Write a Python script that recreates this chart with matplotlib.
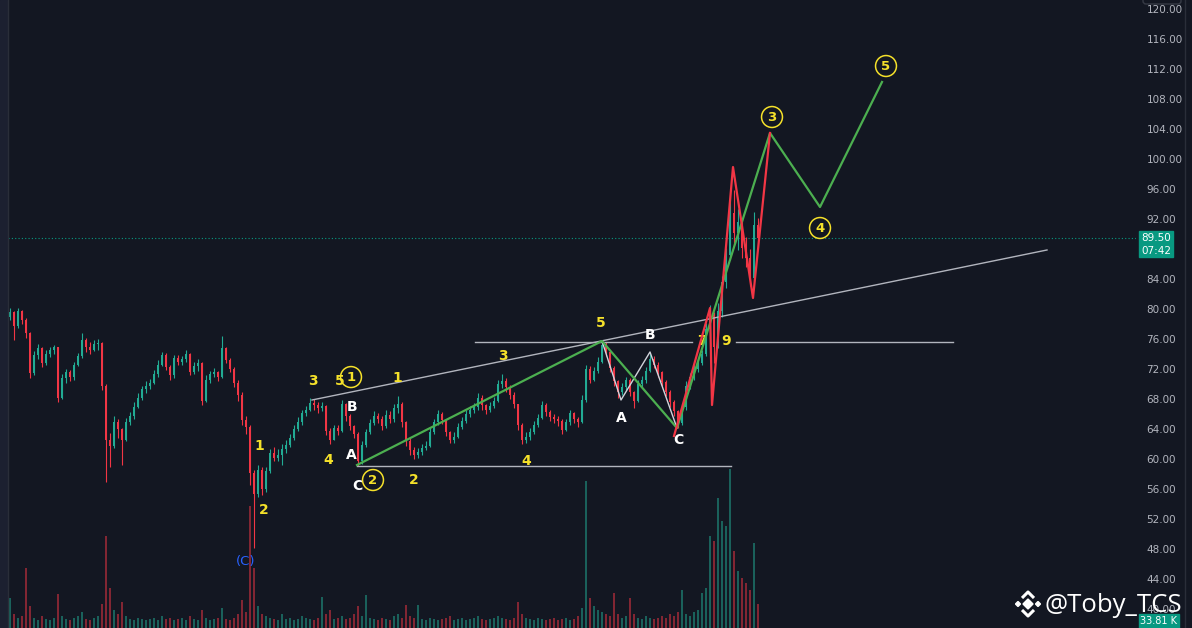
import matplotlib
matplotlib.use("Agg")
import matplotlib.pyplot as plt
from matplotlib.patches import Rectangle, Polygon, FancyBboxPatch
import numpy as np

# candles, left to right (one every ~4 px)
closes = [
    79.6, 77.8, 79.7, 78.6, 76.8, 71.5, 73.9, 74.8, 72.8, 74.0,
    74.6, 74.9, 68.2, 70.8, 71.6, 70.9, 72.6, 73.7, 75.9, 75.0,
    74.6, 75.3, 75.5, 69.8, 62.5, 61.8, 65.0, 64.0, 62.6, 64.9,
    65.7, 67.0, 68.2, 69.3, 69.8, 70.2, 71.4, 72.6, 73.9, 72.3,
    71.2, 73.5, 73.0, 73.3, 74.0, 71.6, 72.4, 72.8, 67.8, 70.6,
    71.3, 71.6, 70.9, 74.8, 73.2, 72.0, 70.2, 68.6, 65.2, 64.3,
    58.2, 55.4, 58.6, 56.0, 58.4, 60.8, 60.2, 60.6, 61.4, 61.9,
    62.8, 64.0, 65.0, 66.1, 66.6, 67.5, 67.2, 66.8, 67.1, 63.8,
    62.6, 64.1, 63.8, 67.3, 65.7, 64.4, 63.4, 59.8, 61.9, 63.6,
    64.8, 65.8, 65.4, 64.4, 65.9, 65.3, 66.8, 67.4, 64.9, 62.4,
    61.2, 60.5, 61.0, 61.5, 61.8, 63.6, 64.9, 66.0, 65.2, 63.6,
    62.6, 63.0, 64.3, 65.1, 66.0, 66.6, 66.9, 68.2, 67.2, 66.6,
    67.1, 67.8, 70.0, 70.4, 69.6, 68.6, 67.3, 64.5, 62.6, 63.0,
    63.6, 64.6, 65.5, 67.2, 66.3, 65.6, 65.4, 65.1, 63.9, 64.9,
    66.1, 65.3, 64.9, 67.9, 72.0, 70.6, 71.8, 73.0, 75.2, 74.3,
    72.2, 70.4, 68.9, 69.6, 70.5, 68.9, 67.8, 70.0, 70.5, 71.8,
    73.4, 72.6, 71.6, 70.3, 69.0, 67.6, 66.4, 64.8, 66.9, 69.8,
    70.9, 72.0, 72.8, 74.0, 77.4, 79.2, 75.0, 79.8, 83.6, 87.2,
    92.8, 90.2, 91.6, 88.1, 86.8, 84.2, 91.2, 89.5]

highs = [
    80.2, 79.8, 80.1, 79.9, 78.8, 76.9, 74.4, 75.3, 75.0, 74.6,
    75.0, 75.2, 74.9, 71.4, 72.0, 71.9, 73.0, 74.2, 76.8, 76.2,
    75.6, 75.9, 76.0, 75.6, 70.0, 63.5, 65.8, 65.4, 64.2, 65.5,
    66.3, 67.6, 68.8, 69.8, 70.4, 70.7, 71.9, 73.2, 74.3, 74.1,
    72.6, 73.9, 73.9, 73.8, 74.5, 74.2, 73.0, 73.4, 72.9, 71.2,
    71.8, 72.2, 71.8, 76.4, 75.0, 73.5, 72.3, 70.5, 68.9, 65.8,
    64.5, 58.6, 59.2, 59.0, 59.0, 61.3, 61.6, 61.3, 62.0, 62.5,
    63.4, 64.5, 65.6, 66.6, 67.1, 68.1, 68.0, 67.6, 67.6, 67.2,
    64.2, 64.6, 64.6, 67.9, 67.5, 66.0, 64.6, 63.6, 62.4, 64.0,
    65.4, 66.4, 66.1, 65.8, 66.5, 66.4, 67.4, 68.4, 67.6, 65.1,
    62.8, 61.6, 61.5, 62.0, 62.4, 64.1, 65.4, 66.6, 66.3, 65.4,
    63.8, 63.6, 64.8, 65.6, 66.5, 67.1, 67.5, 68.8, 68.5, 67.4,
    67.6, 68.3, 70.5, 71.4, 70.8, 69.9, 68.9, 67.4, 64.8, 63.6,
    64.1, 65.1, 66.0, 67.8, 67.5, 66.6, 66.0, 65.8, 65.3, 65.4,
    66.6, 66.3, 65.6, 68.5, 72.6, 72.4, 72.3, 73.6, 75.9, 75.6,
    74.6, 72.4, 70.6, 70.1, 71.0, 70.8, 69.1, 70.5, 71.1, 72.3,
    74.0, 73.8, 72.9, 71.8, 70.6, 69.2, 67.9, 66.6, 67.4, 70.4,
    71.5, 72.6, 73.4, 74.6, 78.2, 80.6, 79.6, 80.8, 84.4, 88.2,
    94.9, 95.9, 93.4, 92.0, 89.6, 88.0, 93.0, 92.2]

lows = [
    78.5, 75.9, 77.5, 78.0, 76.2, 70.8, 71.2, 73.4, 72.3, 72.5,
    73.6, 74.0, 67.6, 68.0, 70.2, 70.4, 70.6, 72.4, 73.5, 74.3,
    74.0, 74.4, 74.6, 69.2, 56.9, 59.0, 61.5, 62.8, 59.2, 62.4,
    64.6, 65.4, 66.8, 67.9, 68.8, 69.4, 70.0, 71.0, 72.4, 71.9,
    70.6, 70.8, 72.5, 72.6, 72.9, 71.2, 71.3, 71.8, 67.2, 67.6,
    70.2, 70.9, 70.4, 70.8, 72.8, 71.6, 69.6, 67.8, 64.5, 63.4,
    56.5, 48.2, 55.0, 55.2, 55.6, 58.2, 59.7, 59.8, 59.2, 60.8,
    61.6, 62.6, 63.8, 64.6, 65.7, 66.4, 66.5, 66.2, 66.4, 63.2,
    62.0, 62.5, 63.2, 63.6, 65.1, 63.9, 62.8, 59.1, 59.4, 61.6,
    63.3, 64.5, 64.8, 63.9, 64.2, 64.8, 65.0, 66.2, 64.3, 61.8,
    60.6, 60.0, 60.1, 60.6, 61.2, 61.6, 63.4, 64.6, 64.7, 63.1,
    62.1, 62.2, 62.8, 64.0, 64.8, 65.6, 66.1, 66.6, 66.6, 66.0,
    66.3, 66.8, 67.6, 69.5, 69.0, 68.0, 66.8, 63.9, 62.0, 62.2,
    62.6, 63.3, 64.3, 65.3, 65.8, 65.1, 64.8, 64.4, 63.4, 63.7,
    64.6, 64.8, 64.3, 64.8, 67.6, 70.1, 70.4, 71.5, 72.8, 73.8,
    71.6, 69.8, 68.2, 68.5, 69.2, 68.4, 66.8, 67.6, 69.6, 70.2,
    71.6, 72.1, 71.0, 69.8, 68.4, 67.0, 65.8, 64.1, 64.6, 66.6,
    69.4, 70.6, 71.6, 72.6, 73.8, 76.4, 72.8, 74.8, 78.9, 82.8,
    86.6, 88.6, 87.9, 86.8, 85.6, 83.1, 83.8, 88.1]

# volume in K
volumes = [
    42, 20, 14, 17, 84, 31, 14, 11, 17, 13,
    11, 14, 48, 17, 13, 11, 14, 17, 22, 13,
    11, 14, 17, 34, 130, 56, 25, 20, 36, 17,
    13, 11, 14, 13, 11, 13, 14, 11, 17, 13,
    14, 11, 13, 14, 11, 17, 13, 11, 25, 14,
    11, 13, 14, 28, 13, 11, 14, 20, 39, 22,
    172, 84, 31, 20, 17, 14, 13, 11, 20, 13,
    14, 11, 13, 17, 14, 13, 11, 14, 43, 20,
    25, 13, 14, 17, 13, 14, 20, 31, 17, 46,
    14, 13, 11, 14, 13, 11, 17, 20, 14, 32,
    17, 14, 32, 13, 11, 14, 13, 11, 13, 14,
    17, 11, 13, 14, 11, 13, 14, 17, 13, 11,
    13, 14, 17, 14, 13, 11, 14, 36, 20, 14,
    13, 11, 14, 13, 11, 13, 14, 11, 13, 14,
    11, 13, 17, 28, 207, 42, 31, 25, 22, 20,
    17, 50, 20, 14, 17, 42, 20, 14, 13, 17,
    14, 13, 14, 17, 14, 20, 17, 22, 53, 20,
    17, 22, 25, 49, 56, 130, 123, 183, 151, 144,
    224, 109, 81, 70, 63, 53, 120, 33.81]

# 88.00 sits under the last-price tag, so it is not shown
price_ticks = [40, 44, 48, 52, 56, 60, 64, 68, 72, 76, 80, 84, 92, 96, 100, 104, 108, 112, 116, 120]

# drawings: (bar index, price)
green_wave = [(86.75, 59.2), (148, 75.73), (166.75, 64.13), (190, 103.47), (202.5, 93.6), (218, 110.27)]
red_wave = [(166, 63.07), (175, 80.13), (175.5, 67.2), (180.75, 98.93), (185.75, 81.47), (190, 103.47)]
abc_wave = [(148, 75.73), (152.75, 67.87), (160, 74.27), (166.75, 64.13)]
trend_line = [(75.5, 67.87), (259.25, 87.87)]
top_level = 75.6
top_segments = [(116.25, 170.5), (181.5, 235.75)]
base_level = 59.07
base_span = (86.75, 180.25)

wave_labels = [("1", 62.25, 61.73), ("2", 63.5, 53.2), ("3", 75.75, 70.4), ("4", 79.5, 59.87),
               ("5", 82.5, 70.4), ("1", 96.75, 70.8), ("2", 101, 57.2), ("3", 123.25, 73.73),
               ("4", 129, 59.73), ("5", 147.75, 78.13)]
letter_labels = [("B", 85.5, 66.93), ("A", 85.25, 60.53), ("C", 86.75, 56.4),
                 ("B", 160, 76.53), ("A", 152.75, 65.47), ("C", 167, 62.53)]
circled_labels = [("1", 85.25, 70.93), ("2", 90.75, 57.2), ("3", 190.5, 105.6),
                  ("4", 202.5, 90.8), ("5", 219, 112.4)]
hidden_labels = [("7", 173, 75.73), ("9", 179, 75.73)]

BG = "#131722"
UP = "#22ab94"
DOWN = "#f23645"
YEL = "#f5e12a"
W, H = 1192, 628

closes = np.array(closes)
highs = np.array(highs)
lows = np.array(lows)
opens = np.r_[79.0, closes[:-1]]
x = np.arange(len(closes))
up = closes >= opens
cols = np.where(up, UP, DOWN)

fig = plt.figure(figsize=(W / 100, H / 100), dpi=100, facecolor=BG)

vax = fig.add_axes([8 / W, 0, (1136 - 8) / W, 1])
vax.patch.set_visible(False)
vax.set_xlim(-0.5, 281.5)
vax.set_ylim(0, 885)
vax.axis("off")
vax.bar(x, volumes, width=0.7, color=cols, alpha=0.5, linewidth=0)

ax = fig.add_axes([8 / W, 0, (1136 - 8) / W, 1])
ax.patch.set_visible(False)
ax.set_xlim(-0.5, 281.5)
ax.set_ylim(37.47, 121.2)
for s in ax.spines.values():
    s.set_visible(False)
ax.set_xticks([])
ax.yaxis.tick_right()
ax.set_yticks(price_ticks)
ax.set_yticklabels([f"{v:.2f}" for v in price_ticks])
ax.tick_params(axis="y", length=0, pad=7.5, labelsize=7.5, labelcolor="#b2b5be")

# hidden labels sit under the candles
for t, xi, yi in hidden_labels:
    ax.text(xi, yi, t, color=YEL, fontsize=10, fontweight="bold", ha="center", va="center", zorder=1)

ax.vlines(x, lows, highs, color=cols, lw=0.8, zorder=2)
body = np.maximum(np.abs(closes - opens), 0.12)
ax.bar(x, body, bottom=np.minimum(opens, closes), width=0.62, color=cols, linewidth=0, zorder=2)

ax.axhline(closes[-1], color="#089981", ls=(0, (1, 2)), lw=0.8, zorder=1)

tx, ty = zip(*trend_line)
ax.plot(tx, ty, color="#b2b5be", lw=1, zorder=3)
for a, b in top_segments:
    ax.plot([a, b], [top_level, top_level], color="#b2b5be", lw=1, zorder=3)
ax.plot(base_span, [base_level, base_level], color="#b2b5be", lw=1, zorder=3)

ax.plot(*zip(*abc_wave), color="#d1d4dc", lw=1, zorder=3)
ax.plot(*zip(*green_wave), color="#4caf50", lw=1.6, zorder=4)
ax.plot(*zip(*red_wave), color=DOWN, lw=1.6, zorder=4)

for t, xi, yi in wave_labels:
    ax.text(xi, yi, t, color=YEL, fontsize=10, fontweight="bold", ha="center", va="center", zorder=5)
for t, xi, yi in letter_labels:
    ax.text(xi, yi, t, color="white", fontsize=10, fontweight="bold", ha="center", va="center", zorder=5)
for t, xi, yi in circled_labels:
    ax.text(xi, yi, t, color=YEL, fontsize=9.5, fontweight="bold", ha="center", va="center", zorder=5,
            bbox=dict(boxstyle="circle,pad=0.3", fc="none", ec=YEL, lw=1.1))
ax.text(59, 46.27, "(C)", color="#2962ff", fontsize=9.5, ha="center", va="center", zorder=5)

# chrome drawn in pixel coordinates
ov = fig.add_axes([0, 0, 1, 1])
ov.set_xlim(0, W)
ov.set_ylim(H, 0)
ov.axis("off")
ov.patch.set_visible(False)
ov.add_patch(Rectangle((0, 0), 7, H, color="#1c2030"))
ov.plot([7.5, 7.5], [0, H], color="#2a2e39", lw=1)
ov.plot([1184.5, 1184.5], [0, H], color="#2a2e39", lw=1)
ov.add_patch(FancyBboxPatch((1143, -8), 38, 12, boxstyle="round,pad=0,rounding_size=3",
                            fc="none", ec="#363a45", lw=1))

py = H - ax.transData.transform((0, closes[-1]))[1]
ov.add_patch(Rectangle((1139, py - 7), 34, 26, color="#089981"))
ov.text(1156, py, f"{closes[-1]:.2f}", color="white", fontsize=7.5, ha="center", va="center")
ov.text(1156, py + 13, "07:42", color="white", fontsize=7.5, ha="center", va="center")

ov.text(1044, 605, "@Toby_TCS", color="white", fontsize=18.5, family="Open Sans", ha="left", va="center")
ov.add_patch(Polygon([(1028, 599), (1033, 604), (1028, 609), (1023, 604)], color="white"))
ov.add_patch(Polygon([(1018, 601.5), (1020.5, 604), (1018, 606.5), (1015.5, 604)], color="white"))
ov.add_patch(Polygon([(1038, 601.5), (1040.5, 604), (1038, 606.5), (1035.5, 604)], color="white"))
ov.plot([1022, 1028, 1034], [598, 592, 598], color="white", lw=2.2, solid_capstyle="butt")
ov.plot([1022, 1028, 1034], [610, 616, 610], color="white", lw=2.2, solid_capstyle="butt")

ov.add_patch(Rectangle((1139, 614), 40, 14, color="#089981"))
ov.text(1159, 621, f"{volumes[-1]:.2f} K", color="white", fontsize=7, ha="center", va="center")

fig.savefig("out.png", dpi=100, facecolor=BG)
